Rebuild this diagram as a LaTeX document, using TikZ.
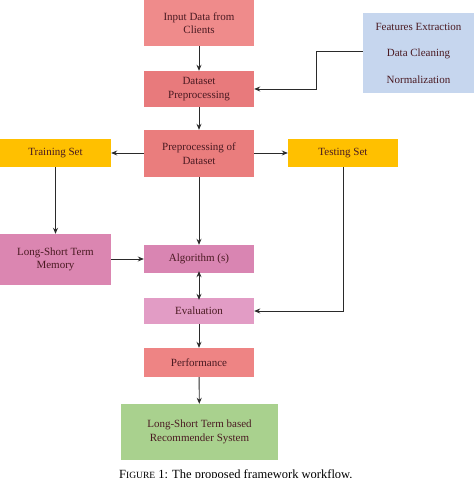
\documentclass[tikz,border=0pt]{standalone}
\usepackage{fontspec}
\setmainfont{Liberation Serif}
\usetikzlibrary{arrows.meta}
\definecolor{inred}{HTML}{EF8B8B}
\definecolor{dpred}{HTML}{E87A7C}
\definecolor{pdred}{HTML}{EA7D7D}
\definecolor{perfred}{HTML}{EE8484}
\definecolor{featblue}{HTML}{C6D6EE}
\definecolor{setyel}{HTML}{FFC000}
\definecolor{lstmpink}{HTML}{DB86B1}
\definecolor{algpink}{HTML}{D985B2}
\definecolor{evalpink}{HTML}{E29CC5}
\definecolor{recgreen}{HTML}{A9D18E}
\definecolor{txt}{HTML}{4A1A22}
\definecolor{linec}{HTML}{2A2A2A}
\tikzset{
  box/.style={draw=none, inner sep=0pt, align=center, text=txt, font=\fontsize{11}{13.5}\selectfont},
  conn/.style={draw=linec, line width=0.9pt, -{Stealth[length=6pt,width=5pt]}},
}
\begin{document}
\begin{tikzpicture}[x=1pt,y=-1pt]
\useasboundingbox (0,0) rectangle (474,478);
\fill[white] (0,0) rectangle (474,478);
% boxes
\node[box, fill=inred, minimum width=110pt, minimum height=46pt] (input) at (199,23) {Input Data from\\Clients};
\node[box, fill=dpred, minimum width=110pt, minimum height=36pt] (dprep) at (199,89) {Dataset\\Preprocessing};
\node[box, fill=featblue, minimum width=111pt, minimum height=80pt, font=\fontsize{11}{26.5}\selectfont] (feat) at (418.5,53) {Features Extraction\\Data Cleaning\\Normalization};
\node[box, fill=pdred, minimum width=110pt, minimum height=47pt] (pdata) at (199,153.5) {Preprocessing of\\Dataset};
\node[box, fill=setyel, minimum width=111pt, minimum height=28pt] (train) at (55.5,153) {Training Set};
\node[box, fill=setyel, minimum width=110pt, minimum height=28pt] (test) at (343,153) {Testing Set};
\node[box, fill=lstmpink, minimum width=111pt, minimum height=51pt] (lstm) at (55.5,259.5) {Long-Short Term\\Memory};
\node[box, fill=algpink, minimum width=110pt, minimum height=28pt] (alg) at (199,259) {Algorithm (s)};
\node[box, fill=evalpink, minimum width=110pt, minimum height=26pt] (eval) at (199,311) {Evaluation};
\node[box, fill=perfred, minimum width=110pt, minimum height=29pt] (perf) at (199,362.5) {Performance};
\node[box, fill=recgreen, minimum width=157pt, minimum height=56pt] (rec) at (199.5,432) {Long-Short Term based\\Recommender System};
% caption
\node[anchor=base west, inner sep=0pt, text=black, font=\fontsize{12.5}{14}\selectfont] (cap) at (119,478) {F{\fontsize{9.5}{11}\selectfont IGURE} 1: The proposed framework workflow.};
% connectors
\draw[conn] (input) -- (dprep);
\draw[conn] (dprep) -- (pdata);
\coordinate (fk) at (316,51);
\draw[conn] (feat.west |- fk) -- (fk) |- (dprep.east);
\draw[conn] (pdata.west |- train) -- (train.east);
\draw[conn] (pdata.east |- test) -- (test.west);
\draw[conn] (train) -- (lstm);
\draw[conn] (pdata) -- (alg);
\draw[conn] (lstm.east |- alg) -- (alg.west);
\draw[conn, {Stealth[length=6pt,width=5pt]}-{Stealth[length=6pt,width=5pt]}] ([yshift=2pt]alg.south) -- ([yshift=-2pt]eval.north);
\draw[conn] (test.south) |- (eval.east);
\draw[conn] (eval) -- (perf);
\draw[conn] (perf) -- (rec);
\end{tikzpicture}
\end{document}
